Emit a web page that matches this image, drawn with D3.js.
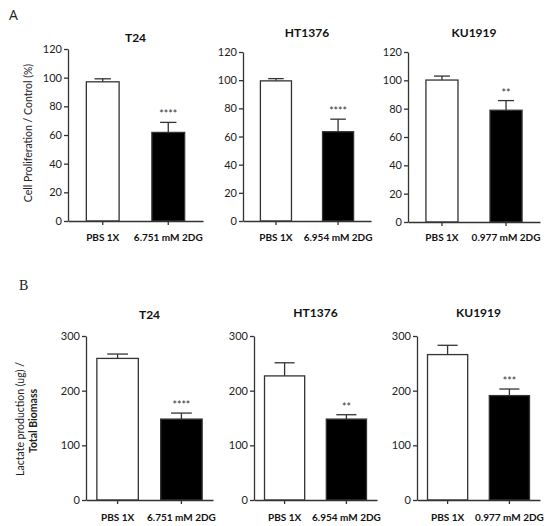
<!DOCTYPE html>
<html>
<head>
<meta charset="utf-8">
<script src="https://cdn.jsdelivr.net/npm/d3@7"></script>
<style>
  body { margin: 0; background: #fff; }
  svg { font-family: Lato, "Open Sans", sans-serif; }
</style>
</head>
<body>
<svg id="chart" width="550" height="526"></svg>
<script>
// data
const cellLines = ["T24", "HT1376", "KU1919"];
const controlLabel = "PBS 1X";
const doseLabels = ["6.751 mM 2DG", "6.954 mM 2DG", "0.977 mM 2DG"];

const prolifMean = [[97.1, 61.8], [99.5, 63.4], [100.2, 78.9]];
const prolifErr = [[2.1, 7.0], [1.6, 8.9], [2.8, 6.8]];
const prolifStars = ["****", "****", "**"];
const prolifTicks = [0, 20, 40, 60, 80, 100, 120];

const lactateMean = [[259, 148], [227, 148], [266, 191]];
const lactateErr = [[8, 11], [24, 8], [17, 12]];
const lactateStars = ["****", "**", "***"];
const lactateTicks = [0, 100, 200, 300];

const svg = d3.select('#chart');
const axisColor = "#333";

// panel geometry
const rows = [
  {
    mean: prolifMean, err: prolifErr, stars: prolifStars, ticks: prolifTicks, max: 120,
    left: [68, 243, 408], right: [203, 371, 540], top: [49, 52, 52], bottom: [221, 221, 222],
    titleY: [42, 37, 37], labelY: 241, inner: 0.5, outer: 0.28
  },
  {
    mean: lactateMean, err: lactateErr, stars: lactateStars, ticks: lactateTicks, max: 300,
    left: [86, 254, 417], right: [213, 377, 540], top: [336, 336, 336], bottom: [500, 500, 500],
    titleY: [319, 317, 317], labelY: 521, inner: 0.35, outer: 0.17
  }
];

rows.forEach(row => {
  cellLines.forEach((name, i) => {
    const g = svg.append('g');
    const cats = [controlLabel, doseLabels[i]];
    let x = d3.scaleBand().domain(cats)
      .range([row.left[i], row.right[i]])
      .paddingInner(row.inner).paddingOuter(row.outer);
    let y = d3.scaleLinear().domain([0, row.max]).range([row.bottom[i], row.top[i]]);

    // error bars (up only), drawn under the bars
    cats.forEach((c, j) => {
      let cx = x(c) + x.bandwidth() / 2;
      let top = y(row.mean[i][j] + row.err[i][j]);
      g.append('line').attr('x1', cx).attr('x2', cx)
        .attr('y1', y(row.mean[i][j])).attr('y2', top)
        .attr('stroke', axisColor).attr('stroke-width', 1.3);
      g.append('line').attr('x1', cx - x.bandwidth() * 0.25).attr('x2', cx + x.bandwidth() * 0.25)
        .attr('y1', top).attr('y2', top)
        .attr('stroke', axisColor).attr('stroke-width', 1.3);
    });

    g.selectAll('rect')
      .data(cats)
      .join('rect')
      .attr('x', d => x(d))
      .attr('y', (d, j) => y(row.mean[i][j]))
      .attr('width', x.bandwidth())
      .attr('height', (d, j) => y(0) - y(row.mean[i][j]))
      .attr('fill', (d, j) => j === 0 ? '#fff' : '#000')
      .attr('stroke', axisColor)
      .attr('stroke-width', 1.3);

    // significance stars
    g.append('text')
      .attr('x', x(cats[1]) + x.bandwidth() / 2)
      .attr('y', y(row.mean[i][1] + row.err[i][1]) - 4)
      .attr('text-anchor', 'middle')
      .attr('font-size', '10.5px')
      .attr('fill', '#333')
      .text(row.stars[i]);

    // axes
    let yAxis = g.append('g')
      .attr('transform', `translate(${row.left[i]},0)`)
      .call(d3.axisLeft(y).tickValues(row.ticks).tickSize(4).tickSizeOuter(0).tickPadding(2));
    let xAxis = g.append('g')
      .attr('transform', `translate(0,${row.bottom[i]})`)
      .call(d3.axisBottom(x).tickSize(4).tickSizeOuter(0).tickFormat(''));
    [yAxis, xAxis].forEach(a => {
      a.select('.domain').attr('stroke', axisColor).attr('stroke-width', 1.3);
      a.selectAll('.tick line').attr('stroke', axisColor).attr('stroke-width', 1.3);
    });
    yAxis.selectAll('.tick text').attr('font-size', '11px').attr('fill', '#222')
      .attr('font-family', 'Lato, sans-serif');

    // category labels
    g.selectAll('.cat')
      .data(cats)
      .join('text')
      .attr('class', 'cat')
      .attr('x', d => x(d) + x.bandwidth() / 2)
      .attr('y', row.labelY)
      .attr('text-anchor', 'middle')
      .attr('font-size', '10px')
      .attr('font-weight', 'bold')
      .attr('fill', '#111')
      .text(d => d);

    // panel title
    g.append('text')
      .attr('x', (row.left[i] + row.right[i]) / 2)
      .attr('y', row.titleY[i])
      .attr('text-anchor', 'middle')
      .attr('font-size', '12px')
      .attr('font-weight', 'bold')
      .attr('fill', '#111')
      .text(name);
  });
});

// panel letters
svg.append('text').attr('x', 9).attr('y', 20)
  .attr('font-size', '14px').attr('font-family', '"Open Sans", sans-serif')
  .attr('fill', '#222').text('A');
svg.append('text').attr('x', 19).attr('y', 290)
  .attr('font-size', '14px').attr('font-family', '"Liberation Serif", serif')
  .attr('fill', '#222').text('B');

// y axis titles
svg.append('text')
  .attr('transform', 'translate(32,133) rotate(-90)')
  .attr('text-anchor', 'middle')
  .attr('font-size', '10.5px')
  .attr('fill', '#222')
  .text('Cell Proliferation / Control (%)');
svg.append('text')
  .attr('transform', 'translate(24,419) rotate(-90)')
  .attr('text-anchor', 'middle')
  .attr('font-size', '10.5px')
  .attr('fill', '#222')
  .text('Lactate production (ug) /');
svg.append('text')
  .attr('transform', 'translate(37,421) rotate(-90)')
  .attr('text-anchor', 'middle')
  .attr('font-size', '10.5px')
  .attr('font-weight', 'bold')
  .attr('fill', '#222')
  .text('Total Biomass');
</script>
</body>
</html>
